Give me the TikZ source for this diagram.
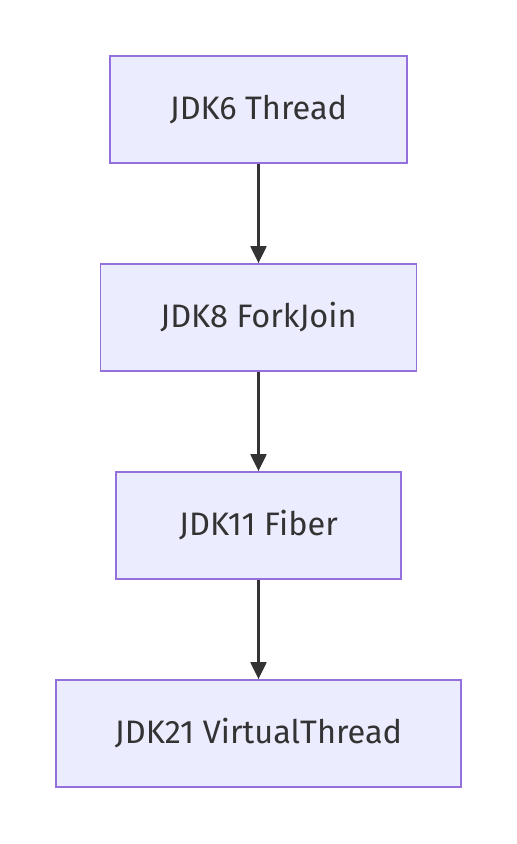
\documentclass[tikz,border=0pt]{standalone}
\usepackage{fontspec}
\setmainfont{Fira Sans}
\usetikzlibrary{arrows.meta}
\definecolor{boxfill}{HTML}{ECECFF}
\definecolor{boxline}{HTML}{9370DB}
\definecolor{ink}{HTML}{333333}
\tikzset{
  stepbox/.style={draw=boxline, fill=boxfill, line width=1.8pt, text=ink,
    minimum height=107pt, inner sep=0pt, font=\fontsize{32.5}{36}\selectfont},
  flow/.style={draw=ink, line width=2.2pt, -{Triangle[length=17pt,width=16pt]}}
}
\begin{document}
\begin{tikzpicture}[x=1pt,y=-1pt]
\useasboundingbox (0,0) rectangle (517,844);
\node[stepbox, minimum width=297pt] (a) at (258.5,109.5) {JDK6 Thread};
\node[stepbox, minimum width=316pt] (b) at (258.5,317.5) {JDK8 ForkJoin};
\node[stepbox, minimum width=285pt] (c) at (258.5,525.5) {JDK11 Fiber};
\node[stepbox, minimum width=405pt] (d) at (258.5,733.5) {JDK21 VirtualThread};
\draw[flow] (a) -- (b);
\draw[flow] (b) -- (c);
\draw[flow] (c) -- (d);
\end{tikzpicture}
\end{document}
